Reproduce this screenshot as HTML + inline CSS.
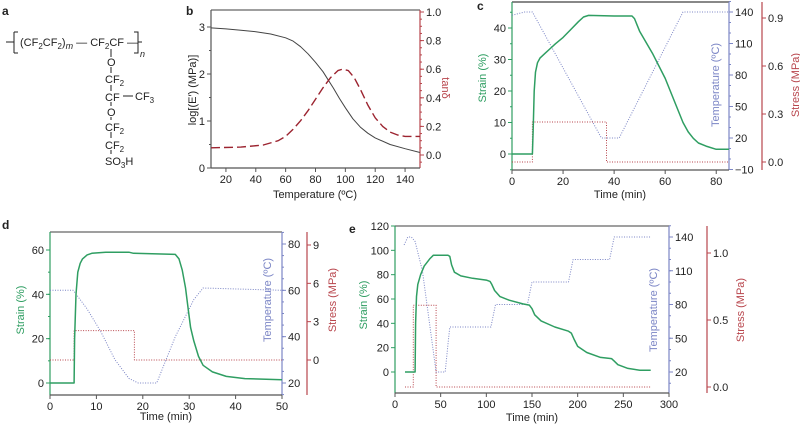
<!DOCTYPE html>
<html><head><meta charset="utf-8"><style>
html,body{margin:0;padding:0;background:#fff}
svg{display:block;font-family:"Liberation Sans",sans-serif}
</style></head><body>
<svg id="fig" width="800" height="427" viewBox="0 0 800 427" xmlns="http://www.w3.org/2000/svg">
<g font-size="11" fill="#222">
<text x="2" y="15" font-weight="bold" font-size="12">a</text>
<path d="M6,42 H14 M14,32 V53 M14,32 H18 M14,53 H18" stroke="#222" fill="none"/>
<text x="20" y="46">(CF<tspan font-size="8" dy="3">2</tspan><tspan dy="-3">CF</tspan><tspan font-size="8" dy="3">2</tspan><tspan dy="-3">)</tspan><tspan font-style="italic" font-size="9" dy="3">m</tspan><tspan dy="-3"> — CF</tspan><tspan font-size="8" dy="3">2</tspan><tspan dy="-3">CF —</tspan></text>
<path d="M134,32 H138 V53 H134 M138,42 H142" stroke="#222" fill="none"/>
<text x="140" y="57" font-size="9" font-style="italic">n</text>
<path d="M111,49 V57 M111,67 V73 M111,85 V91 M111,102 V106 M111,117 V120 M111,132 V138 M111,150 V154 M123,96 H133" stroke="#222"/>
<text x="107" y="66">O</text>
<text x="105" y="83">CF<tspan font-size="8" dy="3">2</tspan></text>
<text x="105" y="101">CF</text>
<text x="135" y="100">CF<tspan font-size="8" dy="3">3</tspan></text>
<text x="107" y="116">O</text>
<text x="105" y="131">CF<tspan font-size="8" dy="3">2</tspan></text>
<text x="105" y="149">CF<tspan font-size="8" dy="3">2</tspan></text>
<text x="105" y="165">SO<tspan font-size="8" dy="3">3</tspan><tspan dy="-3">H</tspan></text>
</g>
</svg>
<script>
// ---- Panel b data ----
const bTemps = [10,20,30,40,50,60,65,70,75,80,85,88,92,96,100,105,110,115,120,130,140,150];
const bLogE = [2.98,2.96,2.93,2.9,2.85,2.77,2.7,2.58,2.43,2.25,2.05,1.9,1.7,1.48,1.28,1.05,0.87,0.74,0.64,0.5,0.41,0.33];
const bTanT = [10,30,45,55,60,65,70,75,80,85,90,95,98,102,106,110,115,120,125,130,135,140,150];
const bTan = [0.05,0.055,0.07,0.1,0.13,0.18,0.24,0.31,0.39,0.47,0.54,0.59,0.6,0.59,0.54,0.46,0.35,0.26,0.2,0.16,0.14,0.13,0.13];
const bXTicks = [20,40,60,80,100,120,140];
const bYTicks = [0,1,2,3];
const bRTicks = [0.0,0.2,0.4,0.6,0.8,1.0];
// ---- Panel c data ----
const cStrainT = [0,8,8.3,8.7,9.2,10,11,13,15,17,20,23,26,28,30,40,47,48,50,55,60,65,67,69,71,73,76,80,85];
const cStrain = [0,0,8,20,26,29,30.5,32,33.5,35,37,39.5,42,43.5,44,43.8,43.8,43,39,32,24,14,10,7,5,3.5,2.5,1.5,1.5];
const cTempT = [0,5,8,35,42,67,85];
const cTemp = [137,140,140,20,20,140,140];
const cStressT = [0,8,8,37,37,85];
const cStress = [0,0,0.25,0.25,0,0];
const cXTicks = [0,20,40,60,80];
const cYTicks = [0,10,20,30,40];
const cTTicks = [-10,20,50,80,110,140];
const cSTicks = [0.0,0.3,0.6,0.9];
// ---- Panel d data ----
const dStrainT = [0,5.2,5.3,5.6,6,6.5,7,8,9,12,17,18,22,27,27.8,28.5,29.2,29.8,30.3,31,32,33,35,38,42,50];
const dStrain = [0,0,20,40,50,54,56,57.8,58.5,59,59,58.5,58.3,58,56,51,43,33,25,19,12,8,5,3,2,1.5];
const dTempT = [0,5,8,11,14,17,19,23,25,27,29,31,33,50];
const dTemp = [60,60,52,42,30,22,20,20,30,40,48,56,61,60];
const dStressT = [0,5.2,5.2,18.2,18.2,50];
const dStress = [0,0,2.3,2.3,0,0];
const dXTicks = [0,10,20,30,40,50];
const dYTicks = [0,20,40,60];
const dTTicks = [20,40,60,80];
const dSTicks = [0,3,6,9];
// ---- Panel e data ----
const eStrainT = [11,22,22.5,23.5,25,28,32,38,42,58,60,62,65,72,85,100,104,106,109,115,125,140,147,150,153,160,175,190,193,196,200,210,225,237,240,244,255,268,280];
const eStrain = [0,0,40,62,72,80,87,93,96,96,95,88,82,79,77,75.5,74.5,72,67,62,59,56,55,52,47,42,37,33.5,32,27,21,16,12,11,9,6,3,1.5,1.5];
const eTempT = [10,14,18,22,30,45,55,58,60,105,110,145,150,190,195,235,240,280];
const eTemp = [133,140,140,136,110,20,20,45,60,60,80,80,100,100,120,120,140,140];
const eStressT = [11,20,20,45,45,280];
const eStress = [0,0,0.61,0.61,0,0];
const eXTicks = [0,50,100,150,200,250,300];
const eYTicks = [0,20,40,60,80,100,120];
const eTTicks = [20,50,80,110,140];
const eSTicks = [0.0,0.5,1.0];

const NS = "http://www.w3.org/2000/svg";
const svg = document.getElementById('fig');
function el(tag, attrs, parent) {
  const e = document.createElementNS(NS, tag);
  for (const k in attrs) e.setAttribute(k, attrs[k]);
  (parent || svg).appendChild(e);
  return e;
}
function lin(d0, d1, r0, r1) { return v => r0 + (v - d0) / (d1 - d0) * (r1 - r0); }
function series(xs, ys, sx, sy, style, name) {
  const pts = xs.map((x, i) => sx(x).toFixed(1) + ',' + sy(ys[i]).toFixed(1)).join(' ');
  const p = el('polyline', Object.assign({points: pts, fill: 'none', 'stroke-linejoin': 'round'}, style));
  
  
  return p;
}
function txt(x, y, s, opts, name) {
  const t = el('text', Object.assign({x: x, y: y, 'font-size': 11, fill: '#222'}, opts || {}));
  t.textContent = s;
  
  
  return t;
}
function vAxis(x, y0, y1, ticks, sy, color, side, fmt, name, minorStep, dmin, dmax) {
  const g = el('g', {});
  
  
  el('line', {x1: x, x2: x, y1: y0, y2: y1, stroke: color, 'stroke-width': 1.2}, g);
  const dir = side === 'left' ? -1 : 1;
  ticks.forEach(v => {
    const y = sy(v);
    el('line', {x1: x, x2: x + dir * 4, y1: y, y2: y, stroke: color}, g);
    const t = el('text', {x: x + dir * 6, y: y + 4, 'font-size': 11, fill: '#222', 'text-anchor': side === 'left' ? 'end' : 'start'}, g);
    t.textContent = fmt(v);
  });
  if (minorStep) {
    for (let v = ticks[0] - minorStep * 10; v <= dmax; v += minorStep) {
      if (v < dmin) continue;
      const y = sy(v);
      el('line', {x1: x, x2: x + dir * 2, y1: y, y2: y, stroke: color}, g);
    }
  }
  return g;
}
function hAxis(y, x0, x1, ticks, sx, name, color) {
  const g = el('g', {});
  
  
  el('line', {x1: x0, x2: x1, y1: y, y2: y, stroke: color || '#555', 'stroke-width': 1.2}, g);
  ticks.forEach(v => {
    const x = sx(v);
    el('line', {x1: x, x2: x, y1: y, y2: y + 4, stroke: '#555'}, g);
    const t = el('text', {x: x, y: y + 15, 'font-size': 11, fill: '#222', 'text-anchor': 'middle'}, g);
    t.textContent = String(v);
  });
  return g;
}
const GREEN = '#2f9e62', BLUE = '#7c86c6', RED = '#b8454c', GRAY = '#666';

// ===== Panel b =====
(function(){
  const L = 211, R = 420, T = 10, B = 168;
  const sx = lin(10, 150, L, R), sy = lin(0, 3, 168, 27), st = lin(0, 1, 155, 12);
  el('line', {x1: L, x2: R, y1: T, y2: T, stroke: GRAY, 'stroke-width': 1.2});
  vAxis(L, T, B, bYTicks, sy, '#555', 'left', v => String(v), 'b-left-axis', 0.5, 0, 3.3);
  vAxis(R, T, B, bRTicks, st, RED, 'right', v => v.toFixed(1), 'b-right-axis', 0.05, -0.09, 1.01);
  hAxis(B, L, R, bXTicks, sx, 'b-x-axis');
  series(bTemps, bLogE, sx, sy, {stroke: '#444', 'stroke-width': 1}, 'storage-modulus-line');
  series(bTanT, bTan, sx, st, {stroke: '#9c2430', 'stroke-width': 1.4, 'stroke-dasharray': '9,4'}, 'tan-delta-line');
  txt(186, 15, 'b', {'font-weight': 'bold', 'font-size': 12}, 'panel-b-label');
  txt(0, 0, 'log[(E′) (MPa)]', {'text-anchor': 'middle', transform: 'translate(196,90) rotate(-90)'}, 'b-y-axis-title');
  txt(0, 0, 'tanδ', {'text-anchor': 'middle', fill: RED, transform: 'translate(442,88) rotate(90)'}, 'b-right-axis-title');
  txt(315, 198, 'Temperature (ºC)', {'text-anchor': 'middle'}, 'b-x-axis-title');
})();

// ===== Panel c =====
(function(){
  const L = 512, R = 729, T = 2, B = 170;
  const sx = lin(0, 85, L, R), sy = lin(0, 40, 154, 28), stt = lin(20, 140, 138, 12), ss = lin(0, 0.9, 162, 18);
  el('line', {x1: L, x2: R, y1: T, y2: T, stroke: '#888', 'stroke-width': 2});
  vAxis(L, T, B, cYTicks, sy, GREEN, 'left', v => String(v), 'c-strain-axis', 5, -5, 48);
  vAxis(R, T, B, cTTicks, stt, BLUE, 'right', v => v < 0 ? '−' + Math.abs(v) : String(v), 'c-temperature-axis', 10, -10, 150);
  vAxis(762, T, B, cSTicks, ss, RED, 'right', v => v.toFixed(1), 'c-stress-axis', 0, 0, 1);
  hAxis(B, L, R, cXTicks, sx, 'c-x-axis');
  series(cTempT, cTemp, sx, stt, {stroke: BLUE, 'stroke-width': 1, 'stroke-dasharray': '1,1.5'}, 'c-temperature-line');
  series(cStressT, cStress, sx, ss, {stroke: RED, 'stroke-width': 1, 'stroke-dasharray': '1,1.5'}, 'c-stress-line');
  series(cStrainT, cStrain, sx, sy, {stroke: GREEN, 'stroke-width': 1.5}, 'c-strain-line');
  txt(477, 10, 'c', {'font-weight': 'bold', 'font-size': 12}, 'panel-c-label');
  txt(0, 0, 'Strain (%)', {'text-anchor': 'middle', fill: GREEN, transform: 'translate(486,78) rotate(-90)'}, 'c-strain-title');
  txt(0, 0, 'Temperature (ºC)', {'text-anchor': 'middle', fill: BLUE, transform: 'translate(719,85) rotate(-90)'}, 'c-temperature-title');
  txt(0, 0, 'Stress (MPa)', {'text-anchor': 'middle', fill: RED, transform: 'translate(799,85) rotate(-90)'}, 'c-stress-title');
  txt(620, 198, 'Time (min)', {'text-anchor': 'middle'}, 'c-x-axis-title');
})();

// ===== Panel d =====
(function(){
  const L = 50, R = 282, T = 232, B = 395;
  const sx = lin(0, 50, L, R), sy = lin(0, 60, 383, 250), stt = lin(20, 80, 383, 244), ss = lin(0, 9, 360, 245);
  el('line', {x1: L, x2: R, y1: T, y2: T, stroke: GRAY, 'stroke-width': 1.2});
  vAxis(L, T, B, dYTicks, sy, GREEN, 'left', v => String(v), 'd-strain-axis', 10, -5, 68);
  vAxis(R, T, B, dTTicks, stt, BLUE, 'right', v => String(v), 'd-temperature-axis', 5, 15, 85);
  vAxis(307, T, B, dSTicks, ss, RED, 'right', v => String(v), 'd-stress-axis', 0, 0, 1);
  hAxis(B, L, R, dXTicks, sx, 'd-x-axis');
  series(dTempT, dTemp, sx, stt, {stroke: BLUE, 'stroke-width': 1, 'stroke-dasharray': '1,1.5'}, 'd-temperature-line');
  series(dStressT, dStress, sx, ss, {stroke: RED, 'stroke-width': 1, 'stroke-dasharray': '1,1.5'}, 'd-stress-line');
  series(dStrainT, dStrain, sx, sy, {stroke: GREEN, 'stroke-width': 1.5}, 'd-strain-line');
  txt(2, 229, 'd', {'font-weight': 'bold', 'font-size': 12}, 'panel-d-label');
  txt(0, 0, 'Strain (%)', {'text-anchor': 'middle', fill: GREEN, transform: 'translate(24,310) rotate(-90)'}, 'd-strain-title');
  txt(0, 0, 'Temperature (ºC)', {'text-anchor': 'middle', fill: BLUE, transform: 'translate(271,300) rotate(-90)'}, 'd-temperature-title');
  txt(0, 0, 'Stress (MPa)', {'text-anchor': 'middle', fill: RED, transform: 'translate(336,300) rotate(-90)'}, 'd-stress-title');
  txt(166, 420, 'Time (min)', {'text-anchor': 'middle'}, 'd-x-axis-title');
})();

// ===== Panel e =====
(function(){
  const L = 395, R = 669, T = 226, B = 393;
  const sx = lin(0, 300, L, R), sy = lin(0, 120, 372, 226), stt = lin(20, 140, 372, 237), ss = lin(0, 1, 387, 253);
  el('line', {x1: L, x2: R, y1: T, y2: T, stroke: GRAY, 'stroke-width': 1.2});
  vAxis(L, T, B, eYTicks, sy, GREEN, 'left', v => String(v), 'e-strain-axis', 0, 0, 1);
  vAxis(R, T, B, eTTicks, stt, BLUE, 'right', v => String(v), 'e-temperature-axis', 10, 10, 150);
  vAxis(707, T, B, eSTicks, ss, RED, 'right', v => v.toFixed(1), 'e-stress-axis', 0, 0, 1);
  hAxis(B, L, R, eXTicks, sx, 'e-x-axis');
  series(eTempT, eTemp, sx, stt, {stroke: BLUE, 'stroke-width': 1, 'stroke-dasharray': '1,1.5'}, 'e-temperature-line');
  series(eStressT, eStress, sx, ss, {stroke: RED, 'stroke-width': 1, 'stroke-dasharray': '1,1.5'}, 'e-stress-line');
  series(eStrainT, eStrain, sx, sy, {stroke: GREEN, 'stroke-width': 1.5}, 'e-strain-line');
  txt(349, 233, 'e', {'font-weight': 'bold', 'font-size': 12}, 'panel-e-label');
  txt(0, 0, 'Strain (%)', {'text-anchor': 'middle', fill: GREEN, transform: 'translate(367,305) rotate(-90)'}, 'e-strain-title');
  txt(0, 0, 'Temperature (ºC)', {'text-anchor': 'middle', fill: BLUE, transform: 'translate(657,310) rotate(-90)'}, 'e-temperature-title');
  txt(0, 0, 'Stress (MPa)', {'text-anchor': 'middle', fill: RED, transform: 'translate(744,310) rotate(-90)'}, 'e-stress-title');
  txt(532, 421, 'Time (min)', {'text-anchor': 'middle'}, 'e-x-axis-title');
})();
</script>
</body></html>
